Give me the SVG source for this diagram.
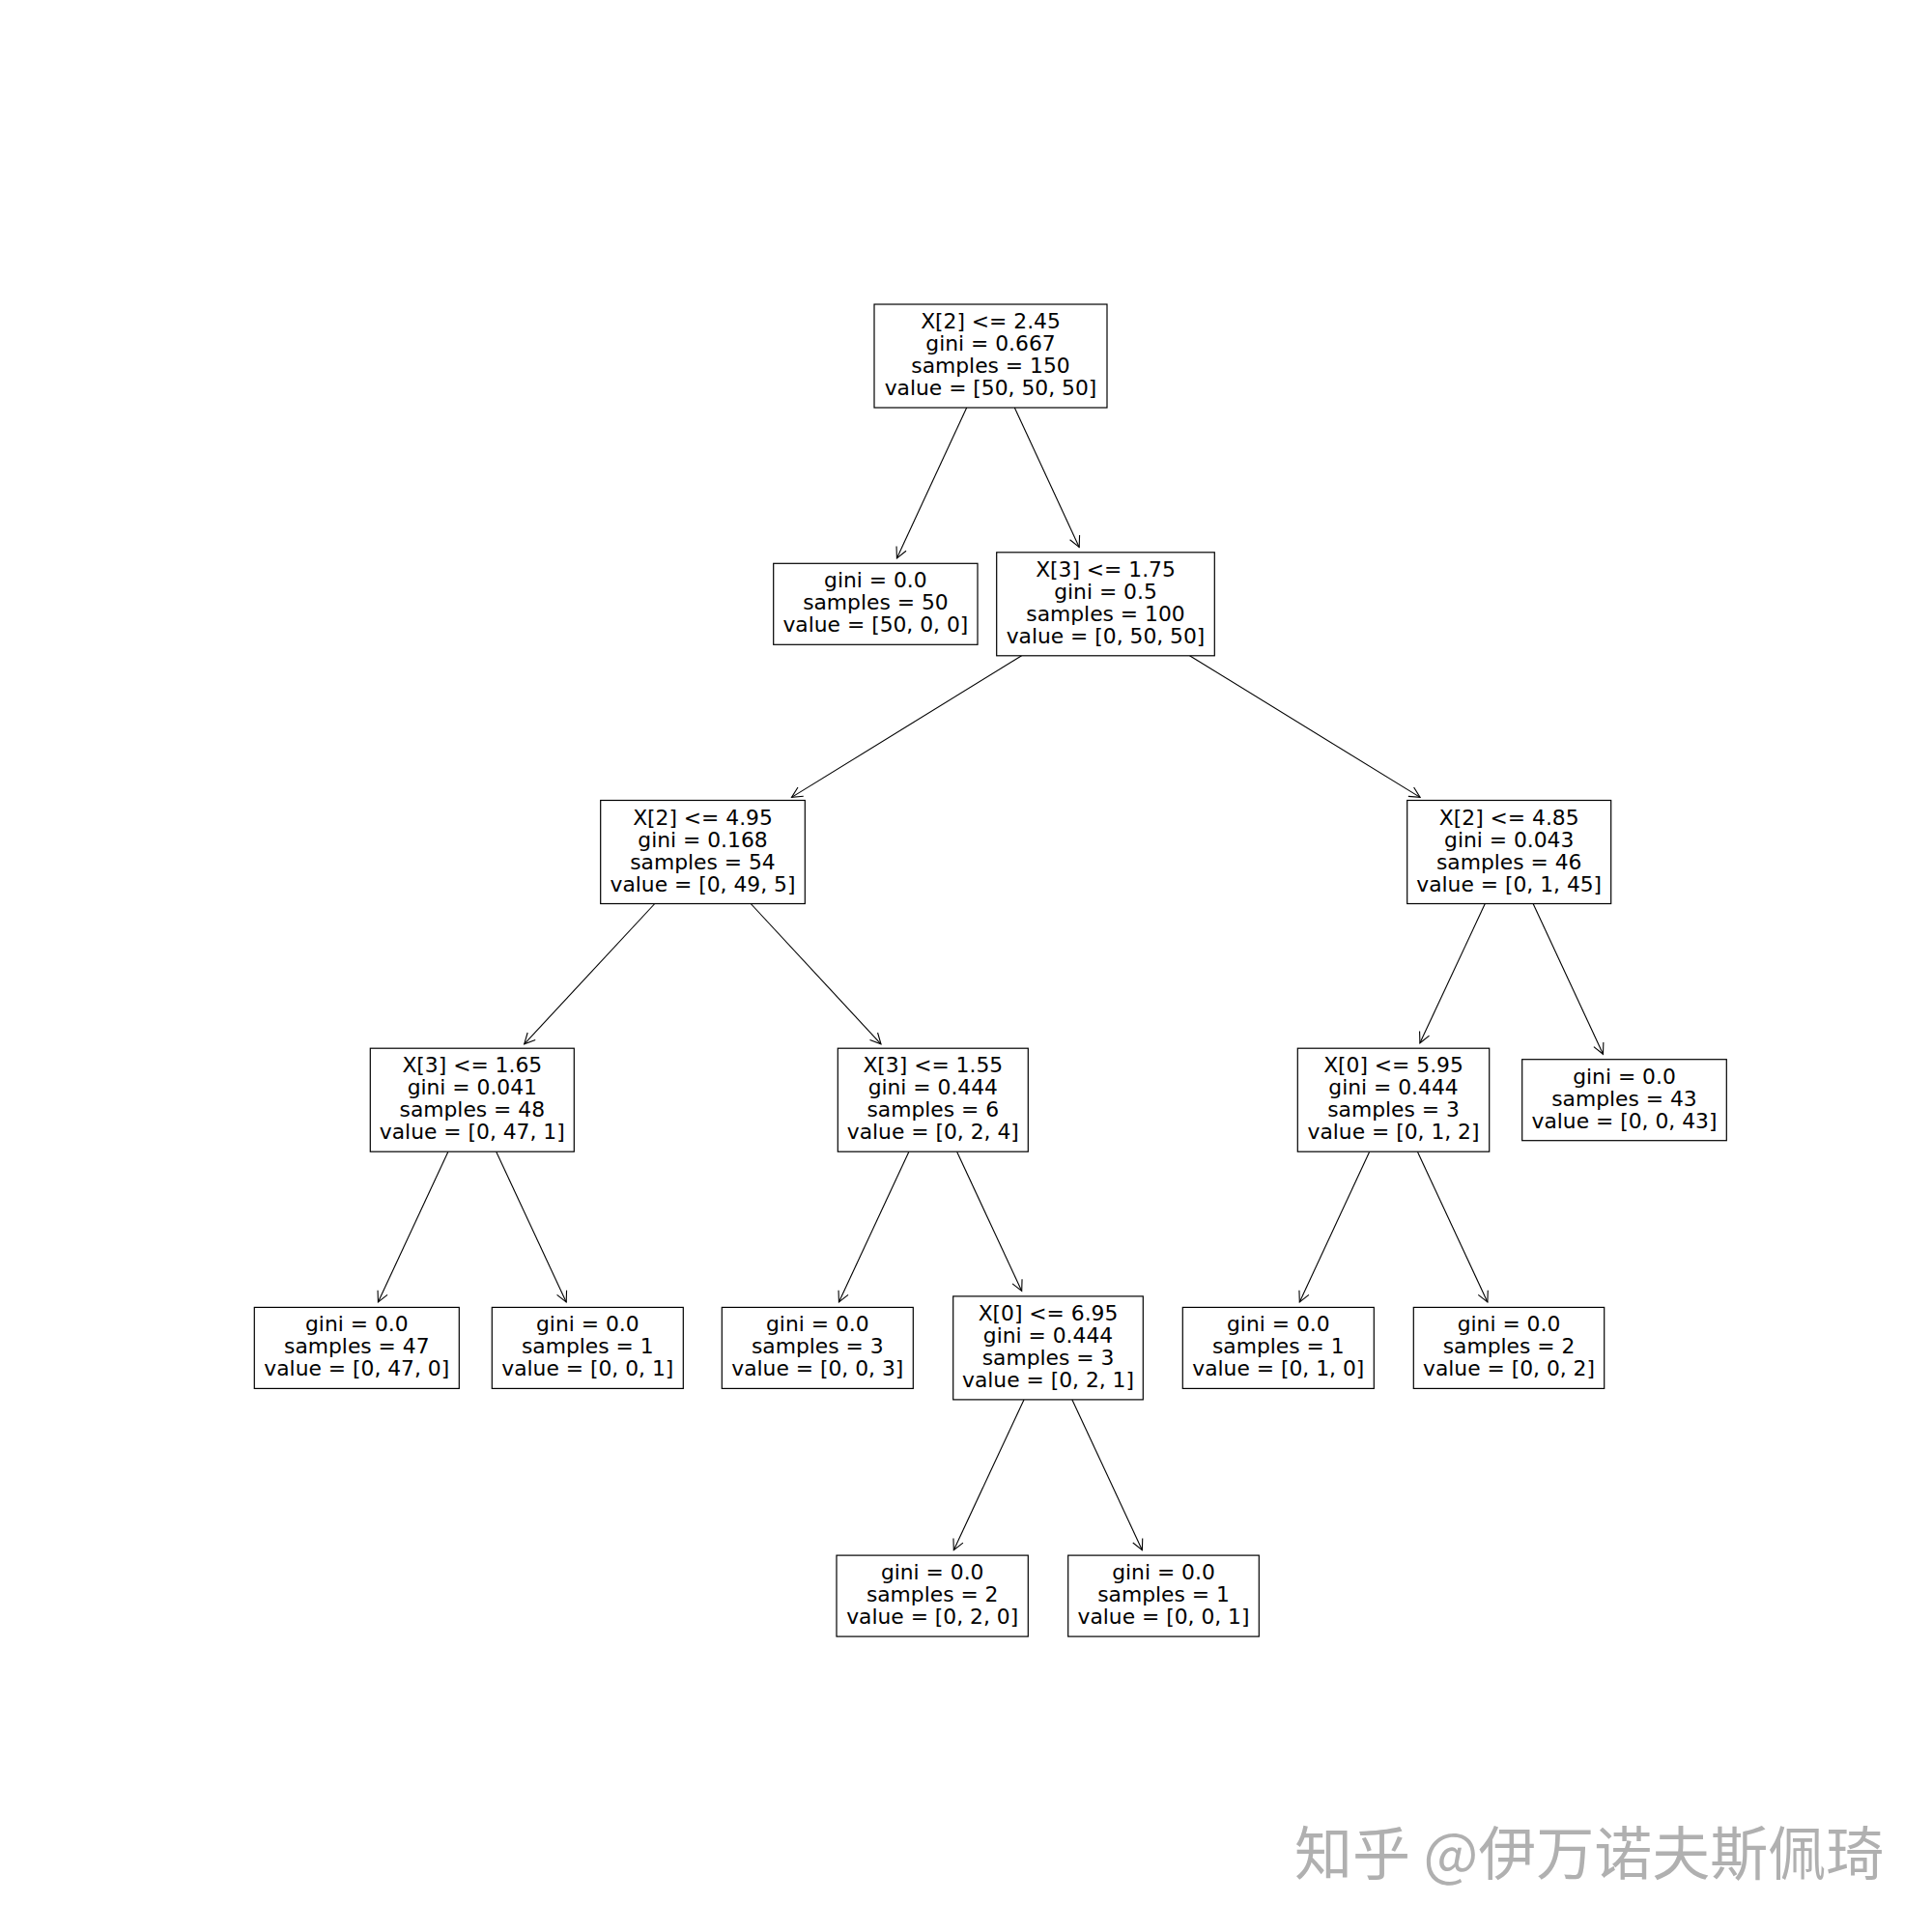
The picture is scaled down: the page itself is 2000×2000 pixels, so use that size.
<svg xmlns="http://www.w3.org/2000/svg" width="2000" height="2000" viewBox="0 0 2000 2000">
<defs>
<style>
.box{fill:#ffffff;stroke:#000000;stroke-width:1.2}
.t{font-family:"DejaVu Sans","Liberation Sans",sans-serif;font-size:21.8px;fill:#000000;text-anchor:middle}
.e{stroke:#000000;stroke-width:1.1;fill:none;marker-end:url(#ah)}
.wm{font-family:"Noto Sans CJK SC","Noto Sans",sans-serif;font-size:60px;fill:#b0b0b0}
</style>
<marker id="ah" markerUnits="userSpaceOnUse" markerWidth="16" markerHeight="16" viewBox="-12 -8 16 16" refX="0" refY="0" orient="auto">
<path d="M-11,-5.5 L0,0 L-11,5.5" fill="none" stroke="#000000" stroke-width="1.1"/>
</marker>
</defs>
<rect width="2000" height="2000" fill="#ffffff"/>

<g id="connectors">
<line class="e" x1="1000.7" y1="422" x2="928.4" y2="577.9"/>
<line class="e" x1="1050.3" y1="422" x2="1117.2" y2="566.4"/>
<line class="e" x1="1057.6" y1="678.8" x2="819.5" y2="825.4"/>
<line class="e" x1="1231.5" y1="678.8" x2="1470.1" y2="825.4"/>
<line class="e" x1="677.8" y1="935.5" x2="542.7" y2="1080.8"/>
<line class="e" x1="777.2" y1="935.5" x2="912" y2="1080.8"/>
<line class="e" x1="1537.3" y1="935.5" x2="1469.9" y2="1079.8"/>
<line class="e" x1="1587.1" y1="935.5" x2="1659.5" y2="1091.3"/>
<line class="e" x1="463.9" y1="1192.2" x2="391.4" y2="1348"/>
<line class="e" x1="513.7" y1="1192.2" x2="586.2" y2="1348"/>
<line class="e" x1="940.9" y1="1192.2" x2="868.4" y2="1348"/>
<line class="e" x1="990.6" y1="1192.2" x2="1057.7" y2="1336.5"/>
<line class="e" x1="1417.7" y1="1192.2" x2="1345.3" y2="1348"/>
<line class="e" x1="1467.4" y1="1192.2" x2="1539.9" y2="1348"/>
<line class="e" x1="1060" y1="1448.9" x2="987.3" y2="1604.7"/>
<line class="e" x1="1109.9" y1="1448.9" x2="1182.4" y2="1604.7"/>
</g>

<g id="n0">
<rect class="box" x="905" y="315" width="241" height="107"/>
<text class="t" x="1025.5" y="340">X[2] &lt;= 2.45</text>
<text class="t" x="1025.5" y="363">gini = 0.667</text>
<text class="t" x="1025.5" y="386">samples = 150</text>
<text class="t" x="1025.5" y="409">value = [50, 50, 50]</text>
</g>
<g id="n1">
<rect class="box" x="800.7" y="583.3" width="211.3" height="84"/>
<text class="t" x="906.4" y="608.3">gini = 0.0</text>
<text class="t" x="906.4" y="631.3">samples = 50</text>
<text class="t" x="906.4" y="654.3">value = [50, 0, 0]</text>
</g>
<g id="n2">
<rect class="box" x="1031.7" y="571.8" width="225.6" height="107"/>
<text class="t" x="1144.5" y="596.8">X[3] &lt;= 1.75</text>
<text class="t" x="1144.5" y="619.8">gini = 0.5</text>
<text class="t" x="1144.5" y="642.8">samples = 100</text>
<text class="t" x="1144.5" y="665.8">value = [0, 50, 50]</text>
</g>
<g id="n3">
<rect class="box" x="621.7" y="828.5" width="211.6" height="107"/>
<text class="t" x="727.5" y="853.5">X[2] &lt;= 4.95</text>
<text class="t" x="727.5" y="876.5">gini = 0.168</text>
<text class="t" x="727.5" y="899.5">samples = 54</text>
<text class="t" x="727.5" y="922.5">value = [0, 49, 5]</text>
</g>
<g id="n4">
<rect class="box" x="1456.7" y="828.5" width="211" height="107"/>
<text class="t" x="1562.2" y="853.5">X[2] &lt;= 4.85</text>
<text class="t" x="1562.2" y="876.5">gini = 0.043</text>
<text class="t" x="1562.2" y="899.5">samples = 46</text>
<text class="t" x="1562.2" y="922.5">value = [0, 1, 45]</text>
</g>
<g id="n5">
<rect class="box" x="383.3" y="1085.2" width="211" height="107"/>
<text class="t" x="488.8" y="1110.2">X[3] &lt;= 1.65</text>
<text class="t" x="488.8" y="1133.2">gini = 0.041</text>
<text class="t" x="488.8" y="1156.2">samples = 48</text>
<text class="t" x="488.8" y="1179.2">value = [0, 47, 1]</text>
</g>
<g id="n6">
<rect class="box" x="867.3" y="1085.2" width="197" height="107"/>
<text class="t" x="965.8" y="1110.2">X[3] &lt;= 1.55</text>
<text class="t" x="965.8" y="1133.2">gini = 0.444</text>
<text class="t" x="965.8" y="1156.2">samples = 6</text>
<text class="t" x="965.8" y="1179.2">value = [0, 2, 4]</text>
</g>
<g id="n7">
<rect class="box" x="1343.3" y="1085.2" width="198.4" height="107"/>
<text class="t" x="1442.5" y="1110.2">X[0] &lt;= 5.95</text>
<text class="t" x="1442.5" y="1133.2">gini = 0.444</text>
<text class="t" x="1442.5" y="1156.2">samples = 3</text>
<text class="t" x="1442.5" y="1179.2">value = [0, 1, 2]</text>
</g>
<g id="n8">
<rect class="box" x="1575.7" y="1096.7" width="211.6" height="84"/>
<text class="t" x="1681.5" y="1121.7">gini = 0.0</text>
<text class="t" x="1681.5" y="1144.7">samples = 43</text>
<text class="t" x="1681.5" y="1167.7">value = [0, 0, 43]</text>
</g>
<g id="n9">
<rect class="box" x="263.3" y="1353.4" width="212" height="84"/>
<text class="t" x="369.3" y="1378.4">gini = 0.0</text>
<text class="t" x="369.3" y="1401.4">samples = 47</text>
<text class="t" x="369.3" y="1424.4">value = [0, 47, 0]</text>
</g>
<g id="n10">
<rect class="box" x="509.3" y="1353.4" width="198" height="84"/>
<text class="t" x="608.3" y="1378.4">gini = 0.0</text>
<text class="t" x="608.3" y="1401.4">samples = 1</text>
<text class="t" x="608.3" y="1424.4">value = [0, 0, 1]</text>
</g>
<g id="n11">
<rect class="box" x="747.3" y="1353.4" width="198" height="84"/>
<text class="t" x="846.3" y="1378.4">gini = 0.0</text>
<text class="t" x="846.3" y="1401.4">samples = 3</text>
<text class="t" x="846.3" y="1424.4">value = [0, 0, 3]</text>
</g>
<g id="n12">
<rect class="box" x="986.7" y="1341.9" width="196.6" height="107"/>
<text class="t" x="1085" y="1366.9">X[0] &lt;= 6.95</text>
<text class="t" x="1085" y="1389.9">gini = 0.444</text>
<text class="t" x="1085" y="1412.9">samples = 3</text>
<text class="t" x="1085" y="1435.9">value = [0, 2, 1]</text>
</g>
<g id="n13">
<rect class="box" x="1224.3" y="1353.4" width="198" height="84"/>
<text class="t" x="1323.3" y="1378.4">gini = 0.0</text>
<text class="t" x="1323.3" y="1401.4">samples = 1</text>
<text class="t" x="1323.3" y="1424.4">value = [0, 1, 0]</text>
</g>
<g id="n14">
<rect class="box" x="1463.3" y="1353.4" width="197.4" height="84"/>
<text class="t" x="1562" y="1378.4">gini = 0.0</text>
<text class="t" x="1562" y="1401.4">samples = 2</text>
<text class="t" x="1562" y="1424.4">value = [0, 0, 2]</text>
</g>
<g id="n15">
<rect class="box" x="866" y="1610.1" width="198.3" height="84"/>
<text class="t" x="965.2" y="1635.1">gini = 0.0</text>
<text class="t" x="965.2" y="1658.1">samples = 2</text>
<text class="t" x="965.2" y="1681.1">value = [0, 2, 0]</text>
</g>
<g id="n16">
<rect class="box" x="1105.7" y="1610.1" width="197.6" height="84"/>
<text class="t" x="1204.5" y="1635.1">gini = 0.0</text>
<text class="t" x="1204.5" y="1658.1">samples = 1</text>
<text class="t" x="1204.5" y="1681.1">value = [0, 0, 1]</text>
</g>

<g id="watermark">
<text class="wm" x="1340" y="1941">知乎 @伊万诺夫斯佩琦</text>
</g>
</svg>
